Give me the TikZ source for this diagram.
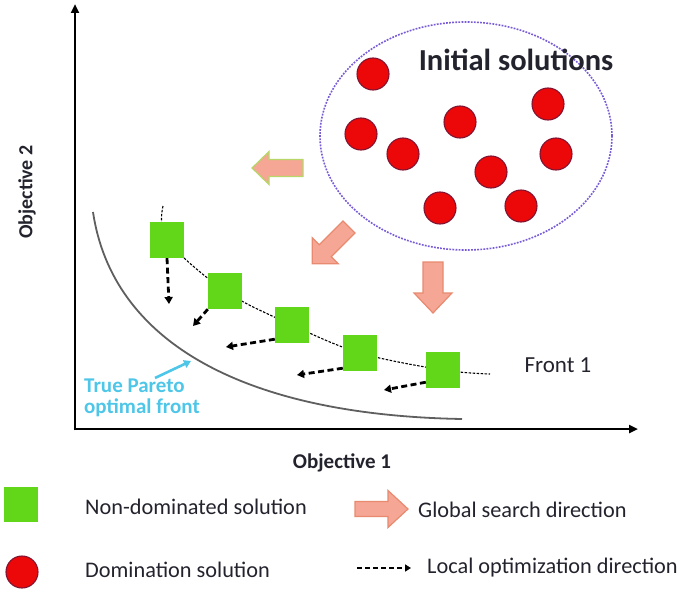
\documentclass[tikz,border=0pt]{standalone}
\usepackage{fontspec}
\setmainfont{Carlito}
\usetikzlibrary{shapes.geometric,arrows.meta,backgrounds}
\definecolor{sqgreen}{RGB}{98,214,24}
\definecolor{dotred}{RGB}{236,8,8}
\definecolor{dotedge}{RGB}{130,20,50}
\definecolor{ellcol}{RGB}{120,90,215}
\definecolor{pinkfill}{RGB}{246,166,148}
\definecolor{pinkedge}{RGB}{232,138,112}
\definecolor{limeedge}{RGB}{185,215,105}
\definecolor{cyantext}{RGB}{78,198,232}
\definecolor{txt}{RGB}{35,35,45}
\definecolor{paretogray}{RGB}{95,95,95}
\newcommand\blockarrowpath[4]{(0,-#2) -- (#1-#4,-#2) -- (#1-#4,-#3) -- (#1,0) -- (#1-#4,#3) -- (#1-#4,#2) -- (0,#2) -- cycle}
\begin{document}
\begin{tikzpicture}[x=1pt,y=-1pt,
  sol/.style={rectangle,fill=sqgreen,minimum width=34pt,minimum height=36pt,inner sep=0pt},
  dom/.style={circle,fill=dotred,draw=dotedge,line width=1.1pt,minimum size=32pt,inner sep=0pt},
  gsearch/.style={fill=pinkfill,draw=pinkedge,line width=1.2pt,line join=miter},
  localarrow/.style={line width=2.8pt,dash pattern=on 6pt off 3.5pt,-{Triangle[length=7pt,width=8pt]}},
  frontline/.style={line width=1.1pt,dash pattern=on 2.5pt off 1.5pt},
  axis/.style={line width=2.6pt,-{Triangle[length=9pt,width=8pt]}},
  legtext/.style={font=\fontsize{22.3}{25}\selectfont,text=txt,inner sep=0pt,anchor=west},
  boldlab/.style={font=\bfseries\fontsize{21}{24}\selectfont,text=txt,inner sep=0pt}]
\useasboundingbox (0,0) rectangle (685,594);

% axes
\coordinate (O) at (75,429);
\coordinate (ytop) at (75,4);
\coordinate (xend) at (638,429);
\draw[axis] ([yshift=-1.3pt]O) -- (ytop);
\draw[axis] ([xshift=-1.3pt]O) -- (xend);
\node[boldlab,rotate=90,font=\bfseries\fontsize{20}{24}\selectfont] (ylab) at (27,192) {Objective 2};
\node[boldlab] (xlab) at (342,463) {Objective 1};

% population ellipse
\node[ellipse,draw=ellcol,line width=1.6pt,dash pattern=on 1.8pt off 1.3pt,
      minimum width=292pt,minimum height=228pt,inner sep=0pt] (pop) at (466,136) {};
\node[font=\bfseries\fontsize{30.5}{33}\selectfont,text=txt,inner sep=0pt] (title) at (516,60) {Initial solutions};
\node[dom] (c1) at (373,74) {};
\node[dom] (c2) at (548,104) {};
\node[dom] (c3) at (460,122) {};
\node[dom] (c4) at (361,134) {};
\node[dom] (c5) at (403,154) {};
\node[dom] (c6) at (556,154) {};
\node[dom] (c7) at (491,172) {};
\node[dom] (c8) at (440,208) {};
\node[dom] (c9) at (521,206) {};

% global search arrows
\begin{scope}[shift={(303,168)},rotate=180]
  \draw[gsearch,draw=limeedge] \blockarrowpath{51}{8.5}{16.5}{17};
\end{scope}
\begin{scope}[shift={(349,227)},rotate=-135]
  \draw[gsearch] \blockarrowpath{52}{8.5}{18.4}{18.4};
\end{scope}
\begin{scope}[shift={(433,262)},rotate=-90]
  \draw[gsearch] \blockarrowpath{51}{10}{19}{20};
\end{scope}

% true Pareto front
\draw[paretogray,line width=1.8pt] (93,212) .. controls (112,340) and (240,415) .. (462,419);
\node[font=\bfseries\fontsize{21}{21}\selectfont,text=cyantext,align=left,anchor=west,inner sep=0pt] (pareto) at (84,398) {True Pareto\\optimal front};
\coordinate (pa) at (155,378);
\coordinate (pb) at (191,361);
\draw[cyantext,line width=2.6pt,-{Triangle[length=7pt,width=8pt]}] (pa) -- (pb);

% non-dominated solutions (front 1)
\node[sol] (s1) at (167,240) {};
\node[sol] (s2) at (225,291) {};
\node[sol] (s3) at (292,325) {};
\node[sol] (s4) at (360,353) {};
\node[sol] (s5) at (443,370) {};
\coordinate (fstart) at (163,206);
\coordinate (fend) at (490,374);
\begin{scope}[on background layer]
  \draw[frontline] plot[smooth,tension=0.55] coordinates {(fstart) (s1.center) (s2.center) (s3.center) (s4.center) (s5.center) (fend)};
\end{scope}
\node[font=\fontsize{23}{26}\selectfont,text=txt,inner sep=0pt] (front) at (558,365) {Front 1};

% local optimization arrows
\coordinate (l1) at (169,304);
\coordinate (l2) at (193,326);
\coordinate (l3) at (226,347);
\coordinate (l4) at (297,375);
\coordinate (l5) at (384,390);
\draw[localarrow] (s1.south) -- (l1);
\draw[localarrow] (s2.south west) -- (l2);
\draw[localarrow] ([yshift=4pt]s3.south west) -- (l3);
\draw[localarrow] ([yshift=3pt]s4.south west) -- (l4);
\draw[localarrow] ([yshift=6pt]s5.south west) -- (l5);

% legend
\node[sol,minimum width=34pt,minimum height=35pt] (lsq) at (21,504) {};
\node[legtext] (lt1) at (85,507) {Non-dominated solution};
\node[dom] (lci) at (22,572) {};
\node[legtext] (lt2) at (85,570) {Domination solution};
\begin{scope}[shift={(355,509)}]
  \draw[gsearch] \blockarrowpath{53}{7.5}{18.5}{20};
\end{scope}
\node[legtext] (lt3) at (418,510) {Global search direction};
\coordinate (ld1) at (357,568);
\coordinate (ld2) at (411,568);
\draw[line width=2pt,dash pattern=on 5pt off 3pt,-{Triangle[length=6pt,width=7pt]}] (ld1) -- (ld2);
\node[legtext] (lt4) at (427,568) {Local optimization direction};
\end{tikzpicture}
\end{document}
